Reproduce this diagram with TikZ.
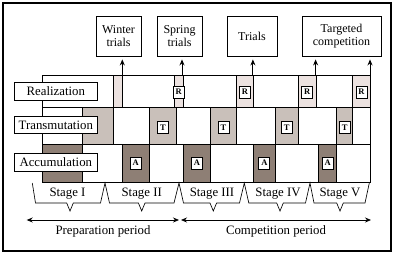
\documentclass[tikz,border=0pt]{standalone}
\usepackage{fontspec}
\setmainfont{Liberation Serif}
\usetikzlibrary{arrows.meta}
\definecolor{accc}{HTML}{8E7F75}
\definecolor{trac}{HTML}{C9C0BA}
\definecolor{realc}{HTML}{ECE2E0}
\begin{document}
\begin{tikzpicture}[x=1pt,y=-1pt,line width=0.85pt,
  rowlabel/.style={draw,fill=white,minimum width=83.7pt,minimum height=17.5pt,inner sep=0pt,font=\fontsize{12.8}{14}\selectfont},
  topbox/.style={draw,fill=white,minimum height=40pt,inner sep=1pt,align=center,font=\fontsize{12}{13.5}\selectfont},
  letterbox/.style={draw,fill=white,minimum width=11pt,minimum height=12pt,inner sep=0pt,font=\bfseries\fontsize{8.5}{8.5}\selectfont},
  txt/.style={inner sep=0pt,font=\fontsize{12.8}{14}\selectfont},
  bracepath/.style={line width=0.65pt,line join=miter},
  uparrow/.style={-{Stealth[length=6pt,width=5pt]},shorten >=3pt},
  periodarrow/.style={{Stealth[length=6pt,width=5pt]}-{Stealth[length=6pt,width=5pt]},line width=0.75pt}
]
\useasboundingbox (0,0) rectangle (396,255);
\draw[line width=1.1pt] (3,3) rectangle (391,251);

% top boxes
\node[topbox,minimum width=45pt] (winter) at (118.5,36) {Winter\\trials};
\node[topbox,minimum width=45pt] (spring) at (179.5,36) {Spring\\trials};
\node[topbox,minimum width=50pt] (trials) at (252,36) {Trials};
\node[topbox,minimum width=79pt] (target) at (341.5,36) {Targeted\\competition};

% rows
\draw (42.7,75) rectangle (370.3,107);
\draw (42.7,107) rectangle (370.3,144);
\draw (42.7,144) rectangle (370.3,182);

% realization cells
\foreach \a/\b in {113.3/122.3,174.3/183.3,236.3/253.7,298.3/316.3,352.7/370.3}
  \draw[fill=realc] (\a,75) rectangle (\b,107);
% transmutation cells
\foreach \a/\b in {82.3/113.3,149.3/176.7,210.3/236.7,275/298.3,336.7/352.7}
  \draw[fill=trac] (\a,107) rectangle (\b,144);
% accumulation cells
\foreach \a/\b in {42.7/82.3,122.3/149.3,183.5/210.3,253.7/275,318.7/336.7}
  \draw[fill=accc] (\a,144) rectangle (\b,182);

% row labels
\node[rowlabel] (real) at (55.8,91.3) {Realization};
\node[rowlabel] (trans) at (55.8,125) {Transmutation};
\node[rowlabel] (accu) at (55.8,162.2) {Accumulation};

% letter boxes
\node[letterbox] (r2) at (178.8,92) {R};
\node[letterbox] (r3) at (245,92) {R};
\node[letterbox] (r4) at (307.3,92) {R};
\node[letterbox] (r5) at (361.5,92) {R};
\node[letterbox] (t2) at (163,127.5) {T};
\node[letterbox] (t3) at (223.5,127.5) {T};
\node[letterbox] (t4) at (286.6,127.5) {T};
\node[letterbox] (t5) at (344.7,127.5) {T};
\node[letterbox] (a2) at (135.7,163) {A};
\node[letterbox] (a3) at (196.9,163) {A};
\node[letterbox] (a4) at (264.4,163) {A};
\node[letterbox] (a5) at (327.7,163) {A};

% arrows to competitions
\coordinate (u1) at (122.3,75);
\coordinate (u2) at (182,75);
\coordinate (u3) at (252.9,75);
\coordinate (u4) at (315.6,75);
\coordinate (u5) at (370,75);
\draw[uparrow] (u1) -- (u1 |- winter.south);
\draw[uparrow] (u2) -- (u2 |- spring.south);
\draw[uparrow] (u3) -- (u3 |- trials.south);
\draw[uparrow] (u4) -- (u4 |- target.south);
\draw[uparrow] (u5) -- (u5 |- target.south);

% stage braces
\draw[bracepath] (32.3,183) -- (35.5,203) -- (66.7,203) -- (70,211) -- (73.3,203) -- (100.5,203) -- (105,183)
  -- (109.5,203) -- (138.4,203) -- (141.7,211) -- (145,203) -- (174,203) -- (179,183)
  -- (183.5,203) -- (210,203) -- (213.3,211) -- (216.6,203) -- (239.5,203) -- (244.3,183)
  -- (248.8,203) -- (276.7,203) -- (280,211) -- (283.3,203) -- (305.5,203) -- (310,183)
  -- (314,203) -- (336.7,203) -- (340,211) -- (343.3,203) -- (365,203) -- (369.3,183);

\node[txt] (s1) at (67.5,193.5) {Stage I};
\node[txt] (s2) at (141.7,193.5) {Stage II};
\node[txt] (s3) at (212,193.5) {Stage III};
\node[txt] (s4) at (278,193.5) {Stage IV};
\node[txt] (s5) at (340,193.5) {Stage V};

% periods
\coordinate (p1) at (26.7,220);
\coordinate (p2) at (179,220);
\coordinate (c1) at (181,220);
\coordinate (c2) at (371,220);
\draw[periodarrow] (p1) -- (p2);
\draw[periodarrow] (c1) -- (c2);
\node[txt] (prep) at (103,231.5) {Preparation period};
\node[txt] (comp) at (276,231.5) {Competition period};
\end{tikzpicture}
\end{document}
